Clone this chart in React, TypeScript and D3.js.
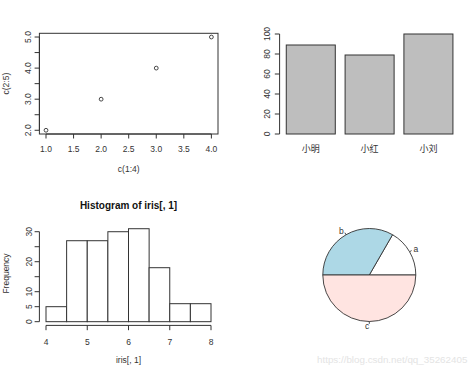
import React from 'react';
import * as d3 from 'd3';

// ---- data ----
const scatterX = [1, 2, 3, 4];
const scatterY = [2, 3, 4, 5];
const scatterXTicks = [1, 1.5, 2, 2.5, 3, 3.5, 4];
const scatterYTicks = [2, 2.5, 3, 3.5, 4, 4.5, 5];
const scatterYLabels = [2, 3, 4, 5];

const barNames = ['小明', '小红', '小刘'];
const barValues = [89, 79, 100];
const barYTicks = [0, 20, 40, 60, 80, 100];

const histBreaks = [4, 4.5, 5, 5.5, 6, 6.5, 7, 7.5, 8];
const histCounts = [5, 27, 27, 30, 31, 18, 6, 6];
const histXTicks = [4, 5, 6, 7, 8];
const histYTicks = [0, 5, 10, 15, 20, 25, 30];
const histYLabels = [0, 5, 10, 20, 30];

const pieLabels = ['a', 'b', 'c'];
const pieValues = [1, 2, 3];
const pieColors = ['#FFFFFF', '#ADD8E6', '#FFE4E1'];

const FONT = 'Liberation Sans, Arial, sans-serif';
const CJK = 'Noto Sans CJK SC, sans-serif';
const INK = '#333';
const FS = 8.5;

function fmt1(v: number) {
  return v.toFixed(1);
}

export default function App() {
  // Panel 1 scatter
  const sx = d3.scaleLinear().domain([0.88, 4.12]).range([39.4, 218]);
  const sy = d3.scaleLinear().domain([1.88, 5.12]).range([134, 33.3]);

  // Panel 2 bar
  const bw = 1, bs = 0.2;
  const barLeft = barValues.map((_, i) => bs + i * (bw + bs));
  const bx = d3.scaleLinear().domain([0.064, 3.736]).range([279.6, 459.6]);
  const by = d3.scaleLinear().domain([-4, 104]).range([138, 30]);

  // Panel 3 histogram
  const hx = d3.scaleLinear().domain([3.84, 8.16]).range([39.4, 217.6]);
  const hy = d3.scaleLinear().domain([-1.24, 32.24]).range([325.4, 225]);

  // Panel 4 pie
  const cx = 369.3, cy = 275, r = 46.5;
  const pieGen = d3.pie<number>().sort(null).startAngle(Math.PI / 2).endAngle(Math.PI / 2 - 2 * Math.PI);
  const arcs = pieGen(pieValues);
  const arcGen = d3.arc<d3.PieArcDatum<number>>().innerRadius(0).outerRadius(r);

  return (
    <svg width={474} height={370} style={{ position: 'absolute', left: 0, top: 0, background: '#fff' }} fontFamily={FONT}>
      <rect x={0} y={0} width={474} height={370} fill="#fff" />

      {/* ---- Panel 1: scatter ---- */}
      <g>
        <rect x={sx.range()[0]} y={sy.range()[1]} width={sx.range()[1] - sx.range()[0]} height={sy.range()[0] - sy.range()[1]} fill="none" stroke={INK} strokeWidth={1} />
        <line x1={sx(1)} x2={sx(4)} y1={134} y2={134} stroke={INK} />
        {scatterXTicks.map((t) => (
          <g key={'sxt' + t}>
            <line x1={sx(t)} x2={sx(t)} y1={134} y2={138.5} stroke={INK} />
            <text x={sx(t)} y={149} fontSize={FS} fill={INK} textAnchor="middle" dominantBaseline="central">{fmt1(t)}</text>
          </g>
        ))}
        <line x1={39.4} x2={39.4} y1={sy(2)} y2={sy(5)} stroke={INK} />
        {scatterYTicks.map((t) => (
          <line key={'syt' + t} x1={34.6} x2={39.4} y1={sy(t)} y2={sy(t)} stroke={INK} />
        ))}
        {scatterYLabels.map((t) => (
          <text key={'syl' + t} transform={`translate(27.5,${sy(t)}) rotate(-90)`} fontSize={FS} fill={INK} textAnchor="middle" dominantBaseline="central">{fmt1(t)}</text>
        ))}
        {scatterX.map((v, i) => {
          const px = sx(v), py = sy(scatterY[i]);
          return <circle key={'pt' + i} cx={px} cy={py} r={1.9} fill="none" stroke={INK} strokeWidth={0.9} />;
        })}
        <text x={128.7} y={169} fontSize={FS} fill={INK} textAnchor="middle" dominantBaseline="central">c(1:4)</text>
        <text transform={`translate(6,83.6) rotate(-90)`} fontSize={FS} fill={INK} textAnchor="middle" dominantBaseline="central">c(2:5)</text>
      </g>

      {/* ---- Panel 2: barplot ---- */}
      <g>
        {barValues.map((v, i) => (
          <rect key={'bar' + i} x={bx(barLeft[i])} y={by(v)} width={bx(barLeft[i] + bw) - bx(barLeft[i])} height={by(0) - by(v)} fill="#BEBEBE" stroke={INK} strokeWidth={1} />
        ))}
        <line x1={279.6} x2={279.6} y1={by(0)} y2={by(100)} stroke={INK} />
        {barYTicks.map((t) => (
          <g key={'byt' + t}>
            <line x1={274.8} x2={279.6} y1={by(t)} y2={by(t)} stroke={INK} />
            <text transform={`translate(267,${by(t)}) rotate(-90)`} fontSize={FS} fill={INK} textAnchor="middle" dominantBaseline="central">{t}</text>
          </g>
        ))}
        {barNames.map((n, i) => (
          <text key={'bn' + i} x={bx(barLeft[i] + bw / 2)} y={148} fontSize={9} fontFamily={CJK} fill={INK} textAnchor="middle" dominantBaseline="central">{n}</text>
        ))}
      </g>

      {/* ---- Panel 3: histogram ---- */}
      <g>
        <text x={128.5} y={205.7} fontSize={10} fontWeight="bold" fill="#111" textAnchor="middle" dominantBaseline="central">Histogram of iris[, 1]</text>
        {histCounts.map((c, i) => (
          <rect key={'hb' + i} x={hx(histBreaks[i])} y={hy(c)} width={hx(histBreaks[i + 1]) - hx(histBreaks[i])} height={hy(0) - hy(c)} fill="#fff" stroke={INK} strokeWidth={1} />
        ))}
        <line x1={hx(4)} x2={hx(8)} y1={325.4} y2={325.4} stroke={INK} />
        {histXTicks.map((t) => (
          <g key={'hxt' + t}>
            <line x1={hx(t)} x2={hx(t)} y1={325.4} y2={330.2} stroke={INK} />
            <text x={hx(t)} y={341.5} fontSize={FS} fill={INK} textAnchor="middle" dominantBaseline="central">{t}</text>
          </g>
        ))}
        <line x1={39.4} x2={39.4} y1={hy(0)} y2={hy(30)} stroke={INK} />
        {histYTicks.map((t) => (
          <line key={'hyt' + t} x1={34.6} x2={39.4} y1={hy(t)} y2={hy(t)} stroke={INK} />
        ))}
        {histYLabels.map((t) => (
          <text key={'hyl' + t} transform={`translate(28.5,${hy(t)}) rotate(-90)`} fontSize={FS} fill={INK} textAnchor="middle" dominantBaseline="central">{t}</text>
        ))}
        <text x={128.5} y={360} fontSize={FS} fill={INK} textAnchor="middle" dominantBaseline="central">iris[, 1]</text>
        <text transform={`translate(6,273.5) rotate(-90)`} fontSize={FS} fill={INK} textAnchor="middle" dominantBaseline="central">Frequency</text>
      </g>

      {/* ---- Panel 4: pie ---- */}
      <g transform={`translate(${cx},${cy})`}>
        {arcs.map((a, i) => (
          <path key={'arc' + i} d={arcGen(a) || ''} fill={pieColors[i]} stroke={INK} strokeWidth={0.9} />
        ))}
        {arcs.map((a, i) => {
          const mid = (a.startAngle + a.endAngle) / 2;
          const ux = Math.sin(mid), uy = -Math.cos(mid);
          const left = ux < 1e-9;
          return (
            <g key={'pl' + i}>
              <line x1={ux * r} y1={uy * r} x2={ux * r * 1.05} y2={uy * r * 1.05} stroke={INK} strokeWidth={0.9} />
              <text x={ux * r * 1.1} y={uy * r * 1.1} fontSize={FS} fill={INK} textAnchor={left ? 'end' : 'start'} dominantBaseline="central">{pieLabels[i]}</text>
            </g>
          );
        })}
      </g>

      {/* watermark */}
      <text x={317} y={359.5} fontSize={9.8} fill="#e4e4e4" dominantBaseline="central">https://blog.csdn.net/qq_35262405</text>
    </svg>
  );
}
